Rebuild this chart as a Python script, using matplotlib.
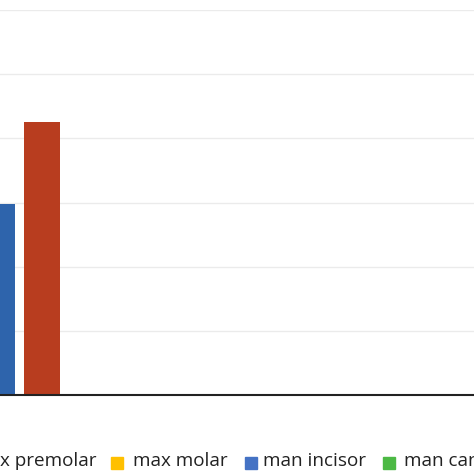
import matplotlib
matplotlib.use("Agg")
import matplotlib.pyplot as plt
from matplotlib.patches import Rectangle

series = ["man incisor", "max canine"]
values = [2.97, 4.26]
colors = ["#2E64AC", "#B83D1F"]
legend_labels = ["max premolar", "max molar", "man incisor", "man canine"]
legend_colors = [None, "#FFC000", "#4472C4", "#4CB944"]

W = H = 474
fig = plt.figure(figsize=(4.74, 4.74), dpi=100)
ax = fig.add_axes([0, (H - 395) / H, 1, (395 - 10) / H])
unit = 45.0
x0 = 3 / unit
ax.set_xlim(x0, x0 + W / unit)
ax.set_ylim(0, 6)
ax.bar(range(len(values)), values, width=0.8, color=colors, zorder=3)
ax.set_yticks(range(0, 7))
ax.grid(axis="y", color="#EBEBEB", lw=1, zorder=0)
ax.tick_params(left=False, bottom=False, labelleft=False, labelbottom=False)
for s in ["top", "left", "right"]:
    ax.spines[s].set_visible(False)
ax.spines["bottom"].set_color("#222222")
ax.spines["bottom"].set_linewidth(1.5)
ax.spines["bottom"].set_zorder(4)

fs = 13.6
ty = 1 - 461 / H
fig.text(96 / W, ty, legend_labels[0], ha="right", va="center", fontsize=fs,
         family="Open Sans", color="#222222")
sq_x = [111, 245, 383]
tx = [133, 263, 404]
for i in range(1, 4):
    fig.patches.append(Rectangle((sq_x[i - 1] / W, 1 - 469 / H), 12 / W, 12 / H,
                                 transform=fig.transFigure, color=legend_colors[i]))
    fig.text(tx[i - 1] / W, ty, legend_labels[i], ha="left", va="center",
             fontsize=fs, family="Open Sans", color="#222222")

fig.savefig("out.png", dpi=100)
